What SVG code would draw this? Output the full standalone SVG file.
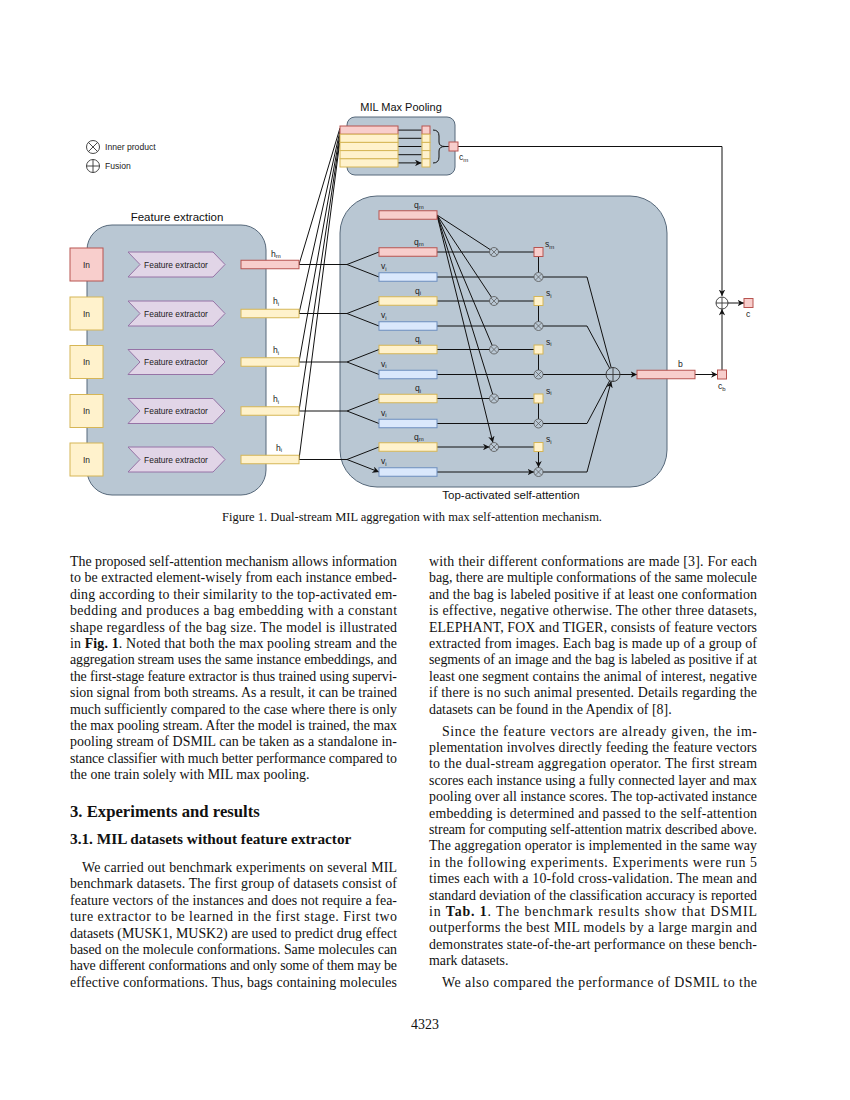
<svg xmlns="http://www.w3.org/2000/svg" width="850" height="1100" viewBox="0 0 850 1100">
<style>
.box{fill:#b9c7d3;stroke:#56687a;stroke-width:1}
.pk{fill:#f8cecc;stroke:#b85450;stroke-width:1}
.yl{fill:#fff2cc;stroke:#d6b656;stroke-width:1}
.bl{fill:#dae8fc;stroke:#6c8ebf;stroke-width:1}
.pu{fill:#e1d5e7;stroke:#9673a6;stroke-width:1}
.ln{stroke:#111;stroke-width:1;fill:none}
.ar{marker-end:url(#ah)}
.op{fill:none;stroke:#333;stroke-width:0.9}
.lab{font-family:"Liberation Sans",Arial,sans-serif;font-size:8.6px;fill:#222}
.sub{font-size:6px}
.ttl{font-family:"Liberation Sans",Arial,sans-serif;font-size:11.5px;fill:#111;text-anchor:middle}
.fe{font-family:"Liberation Sans",Arial,sans-serif;font-size:8.4px;fill:#222;text-anchor:middle}
.body{font-family:"Liberation Serif","Times New Roman",serif;font-size:13.9px;fill:#111}
.b{font-weight:bold}
</style>
<defs>
<marker id="ah" viewBox="0 0 10 10" refX="10" refY="5" markerWidth="6.5" markerHeight="6.5" markerUnits="userSpaceOnUse" orient="auto"><path d="M0,0 L10,5 L0,10 L3,5 z" fill="#111"/></marker>
<g id="ipx"><circle r="4.5" cx="0" cy="0" fill="none" stroke="#555" stroke-width="0.8"/><path d="M-3.2,-3.2 L3.2,3.2 M-3.2,3.2 L3.2,-3.2" stroke="#555" stroke-width="0.7"/></g>
</defs>
<rect width="850" height="1100" fill="#fff"/>

<!-- Legend -->
<g id="legend">
<circle cx="93" cy="147" r="6.5" class="op"/><path d="M88.4,142.4 L97.6,151.6 M88.4,151.6 L97.6,142.4" class="op"/>
<text x="105" y="150" class="lab">Inner product</text>
<circle cx="93" cy="166" r="6.5" class="op"/><path d="M86.5,166 H99.5 M93,159.5 V172.5" class="op"/>
<text x="105" y="169" class="lab">Fusion</text>
</g>

<!-- Containers -->
<g id="feature-extraction">
<rect x="87" y="225" width="179" height="270" rx="25" class="box"/>
<text x="177" y="221" class="ttl">Feature extraction</text>
</g>
<g id="mil-max-pooling">
<rect x="347" y="117" width="108" height="58" rx="8" class="box"/>
<text x="401" y="111" class="ttl" style="font-size:11px">MIL Max Pooling</text>
</g>
<g id="self-attention">
<rect x="340" y="196" width="327" height="291" rx="37" class="box"/>
<text x="511" y="499" class="ttl">Top-activated self-attention</text>
</g>

<!-- Connectors -->
<g id="connectors">
<path d="M299,264.5 L340,128 M299,313.5 L340,131 M299,362 L340,134 M299,411 L340,137 M299,459.5 L340,140" class="ln"/>
<path d="M398,130.1 H421.5 M398,138.3 H421.5 M398,146.5 H421.5 M398,154.7 H421.5 M398,162.9 H421.5" class="ln ar"/>
<path d="M433,130 Q439,130 439,136 L439,142 Q439,146.5 445,146.5 Q439,146.5 439,151 L439,157 Q439,163 433,163" class="ln" stroke-width="0.9"/>
<path d="M445,146.5 H449" class="ln"/>
<path d="M458,146.5 H722 V296" class="ln ar"/>
<path d="M299,264.5 H347 M299,313.5 H347 M299,362 H347 M299,411 H347 M299,459.5 H347" class="ln"/>
<path d="M347,264.5 L379,252 M347,264.5 L379,277 M347,313.5 L379,301 M347,313.5 L379,326 M347,362 L379,349.5 M347,362 L379,374.5 M347,411 L379,398.5 M347,411 L379,423.5 M347,459.5 L379,447 M347,459.5 L379,472" class="ln ar"/>
<path d="M437,252 H489.5 M437,301 H489.5 M437,349.5 H489.5 M437,398.5 H489.5 M437,447 H489.5" class="ln ar"/>
<path d="M437,215 L490.2,249.6 M437,215 L491.5,297.3 M437,215 L492.2,345.4 M437,215 L492.7,394.2 M437,215 L492.9,442.6" class="ln ar"/>
<path d="M498.5,252 H534 M498.5,301 H534 M498.5,349.5 H534 M498.5,398.5 H534 M498.5,447 H534" class="ln"/>
<path d="M538.5,256.5 V272.5 M538.5,305.5 V321.5 M538.5,354 V370 M538.5,403 V419 M538.5,451.5 V467.5" class="ln ar"/>
<path d="M437,277 H534 M437,326 H534 M437,374.5 H534 M437,423.5 H534 M437,472 H534" class="ln ar"/>
<path d="M543,277 H587 L611.2,367.7 M543,326 H587 L609.7,368.3 M543,374.5 H606 M543,423.5 H587 L609.7,380.7 M543,472 H587 L611.2,381.3" class="ln ar"/>
<path d="M620,374.5 H637" class="ln ar"/>
<path d="M695,374.5 H717.5" class="ln ar"/>
<path d="M722,370 V309" class="ln ar"/>
<path d="M728,303 H744" class="ln ar"/>
</g>

<!-- Inputs and extractors -->
<g id="row-0">
<rect x="70" y="248" width="33" height="33" class="pk"/><text x="86.5" y="267.5" class="fe">In</text>
<polygon points="128,252 213,252 225,264.5 213,277 128,277 140,264.5" class="pu"/><text x="176" y="267.5" class="fe">Feature extractor</text>
<rect x="241" y="260.25" width="58" height="8.5" class="pk"/>
<text x="271" y="256.5" class="lab">h<tspan dy="1.8" class="sub">m</tspan></text>
</g>
<g id="row-1">
<rect x="70" y="297" width="33" height="33" class="yl"/><text x="86.5" y="316.5" class="fe">In</text>
<polygon points="128,301 213,301 225,313.5 213,326 128,326 140,313.5" class="pu"/><text x="176" y="316.5" class="fe">Feature extractor</text>
<rect x="241" y="309.25" width="58" height="8.5" class="yl"/>
<text x="273" y="304" class="lab">h<tspan dy="1.8" class="sub">i</tspan></text>
</g>
<g id="row-2">
<rect x="70" y="345.5" width="33" height="33" class="yl"/><text x="86.5" y="365" class="fe">In</text>
<polygon points="128,349.5 213,349.5 225,362 213,374.5 128,374.5 140,362" class="pu"/><text x="176" y="365" class="fe">Feature extractor</text>
<rect x="241" y="357.75" width="58" height="8.5" class="yl"/>
<text x="273" y="353" class="lab">h<tspan dy="1.8" class="sub">i</tspan></text>
</g>
<g id="row-3">
<rect x="70" y="394.5" width="33" height="33" class="yl"/><text x="86.5" y="414" class="fe">In</text>
<polygon points="128,398.5 213,398.5 225,411 213,423.5 128,423.5 140,411" class="pu"/><text x="176" y="414" class="fe">Feature extractor</text>
<rect x="241" y="406.75" width="58" height="8.5" class="yl"/>
<text x="273" y="402" class="lab">h<tspan dy="1.8" class="sub">i</tspan></text>
</g>
<g id="row-4">
<rect x="70" y="443" width="33" height="33" class="yl"/><text x="86.5" y="462.5" class="fe">In</text>
<polygon points="128,447 213,447 225,459.5 213,472 128,472 140,459.5" class="pu"/><text x="176" y="462.5" class="fe">Feature extractor</text>
<rect x="241" y="455.25" width="58" height="8.5" class="yl"/>
<text x="276" y="450.5" class="lab">h<tspan dy="1.8" class="sub">i</tspan></text>
</g>

<!-- Max pooling contents -->
<g id="pooling-stack">
<rect x="340" y="126" width="58" height="8.2" class="pk"/>
<rect x="340" y="134.2" width="58" height="8.2" class="yl"/>
<rect x="340" y="142.4" width="58" height="8.2" class="yl"/>
<rect x="340" y="150.6" width="58" height="8.2" class="yl"/>
<rect x="340" y="158.8" width="58" height="8.2" class="yl"/>
<rect x="422" y="126" width="8" height="8.2" class="pk"/>
<rect x="422" y="134.2" width="8" height="8.2" class="yl"/>
<rect x="422" y="142.4" width="8" height="8.2" class="yl"/>
<rect x="422" y="150.6" width="8" height="8.2" class="yl"/>
<rect x="422" y="158.8" width="8" height="8.2" class="yl"/>
</g>
<g id="cm">
<rect x="449" y="142" width="9" height="9" class="pk"/>
<text x="459" y="160" class="lab">c<tspan dy="1.8" class="sub">m</tspan></text>
</g>

<!-- Self-attention contents -->
<g id="qm-top">
<rect x="379" y="210.75" width="58" height="8.5" class="pk"/>
<text x="414" y="207.5" class="lab">q<tspan dy="1.8" class="sub">m</tspan></text>
</g>
<g id="att-row-0">
<rect x="379" y="247.75" width="58" height="8.5" class="pk"/>
<text x="414" y="244.5" class="lab">q<tspan dy="1.8" class="sub">m</tspan></text>
<rect x="379" y="272.75" width="58" height="8.5" class="bl"/>
<text x="381" y="269" class="lab">v<tspan dy="1.8" class="sub">i</tspan></text>
<use href="#ipx" x="494" y="252"/>
<rect x="534" y="247.5" width="9" height="9" class="pk"/>
<text x="545" y="247" class="lab">s<tspan dy="1.8" class="sub">m</tspan></text>
<use href="#ipx" x="538.5" y="277"/>
</g>
<g id="att-row-1">
<rect x="379" y="296.75" width="58" height="8.5" class="yl"/>
<text x="415" y="293.5" class="lab">q<tspan dy="1.8" class="sub">i</tspan></text>
<rect x="379" y="321.75" width="58" height="8.5" class="bl"/>
<text x="381" y="318" class="lab">v<tspan dy="1.8" class="sub">i</tspan></text>
<use href="#ipx" x="494" y="301"/>
<rect x="534" y="296.5" width="9" height="9" class="yl"/>
<text x="546" y="296" class="lab">s<tspan dy="1.8" class="sub">i</tspan></text>
<use href="#ipx" x="538.5" y="326"/>
</g>
<g id="att-row-2">
<rect x="379" y="345.25" width="58" height="8.5" class="yl"/>
<text x="415" y="342" class="lab">q<tspan dy="1.8" class="sub">i</tspan></text>
<rect x="379" y="370.25" width="58" height="8.5" class="bl"/>
<text x="381" y="366.5" class="lab">v<tspan dy="1.8" class="sub">i</tspan></text>
<use href="#ipx" x="494" y="349.5"/>
<rect x="534" y="345" width="9" height="9" class="yl"/>
<text x="546" y="344.5" class="lab">s<tspan dy="1.8" class="sub">i</tspan></text>
<use href="#ipx" x="538.5" y="374.5"/>
</g>
<g id="att-row-3">
<rect x="379" y="394.25" width="58" height="8.5" class="yl"/>
<text x="415" y="391" class="lab">q<tspan dy="1.8" class="sub">i</tspan></text>
<rect x="379" y="419.25" width="58" height="8.5" class="bl"/>
<text x="381" y="415.5" class="lab">v<tspan dy="1.8" class="sub">i</tspan></text>
<use href="#ipx" x="494" y="398.5"/>
<rect x="534" y="394" width="9" height="9" class="yl"/>
<text x="546" y="393.5" class="lab">s<tspan dy="1.8" class="sub">i</tspan></text>
<use href="#ipx" x="538.5" y="423.5"/>
</g>
<g id="att-row-4">
<rect x="379" y="442.75" width="58" height="8.5" class="yl"/>
<text x="414" y="439.5" class="lab">q<tspan dy="1.8" class="sub">m</tspan></text>
<rect x="379" y="467.75" width="58" height="8.5" class="bl"/>
<text x="381" y="464" class="lab">v<tspan dy="1.8" class="sub">i</tspan></text>
<use href="#ipx" x="494" y="447"/>
<rect x="534" y="442.5" width="9" height="9" class="yl"/>
<text x="546" y="442" class="lab">s<tspan dy="1.8" class="sub">i</tspan></text>
<use href="#ipx" x="538.5" y="472"/>
</g>
<g id="fusion-main">
<circle cx="613" cy="374.5" r="7" class="op"/><path d="M606,374.5 H620 M613,367.5 V381.5" class="op"/>
</g>
<g id="b">
<rect x="637" y="370.25" width="58" height="8.5" class="pk"/>
<text x="678" y="367" class="lab">b</text>
</g>
<g id="cb">
<rect x="717.5" y="370" width="9" height="9" class="pk"/>
<text x="718" y="389" class="lab">c<tspan dy="1.8" class="sub">b</tspan></text>
</g>
<g id="fusion-out">
<circle cx="722" cy="303" r="6" class="op"/><path d="M716,303 H728 M722,297 V309" class="op"/>
</g>
<g id="c">
<rect x="744" y="298.5" width="9" height="9" class="pk"/>
<text x="746" y="317" class="lab">c</text>
</g>

<!-- Caption -->
<text x="222" y="521" class="body" style="font-size:12.5px" textLength="380" lengthAdjust="spacingAndGlyphs">Figure 1. Dual-stream MIL aggregation with max self-attention mechanism.</text>

<!-- Left column -->
<g class="body">
<text x="70" y="566" textLength="327">The proposed self-attention mechanism allows information</text>
<text x="70" y="582.4" textLength="327">to be extracted element-wisely from each instance embed-</text>
<text x="70" y="598.8" textLength="327">ding according to their similarity to the top-activated em-</text>
<text x="70" y="615.2" textLength="327">bedding and produces a bag embedding with a constant</text>
<text x="70" y="631.6" textLength="327">shape regardless of the bag size.  The model is illustrated</text>
<text x="70" y="648" textLength="327">in <tspan class="b">Fig. 1</tspan>. Noted that both the max pooling stream and the</text>
<text x="70" y="664.4" textLength="327">aggregation stream uses the same instance embeddings, and</text>
<text x="70" y="680.8" textLength="327">the first-stage feature extractor is thus trained using supervi-</text>
<text x="70" y="697.2" textLength="327">sion signal from both streams. As a result, it can be trained</text>
<text x="70" y="713.6" textLength="327">much sufficiently compared to the case where there is only</text>
<text x="70" y="730" textLength="327">the max pooling stream. After the model is trained, the max</text>
<text x="70" y="746.4" textLength="327">pooling stream of DSMIL can be taken as a standalone in-</text>
<text x="70" y="762.8" textLength="327">stance classifier with much better performance compared to</text>
<text x="70" y="779.2">the one train solely with MIL max pooling.</text>
<text x="70" y="817" class="b" style="font-size:16.7px">3. Experiments and results</text>
<text x="70" y="844" class="b" style="font-size:15.3px">3.1. MIL datasets without feature extractor</text>
<text x="82" y="872" textLength="315">We carried out benchmark experiments on several MIL</text>
<text x="70" y="888.4" textLength="327">benchmark datasets.  The first group of datasets consist of</text>
<text x="70" y="904.8" textLength="327">feature vectors of the instances and does not require a fea-</text>
<text x="70" y="921.2" textLength="327">ture extractor to be learned in the first stage.  First two</text>
<text x="70" y="937.6" textLength="327">datasets (MUSK1, MUSK2) are used to predict drug effect</text>
<text x="70" y="954" textLength="327">based on the molecule conformations. Same molecules can</text>
<text x="70" y="970.4" textLength="327">have different conformations and only some of them may be</text>
<text x="70" y="986.8" textLength="327">effective conformations.  Thus, bags containing molecules</text>
</g>

<!-- Right column -->
<g class="body">
<text x="429" y="566" textLength="328">with their different conformations are made [3].  For each</text>
<text x="429" y="582.4" textLength="328">bag, there are multiple conformations of the same molecule</text>
<text x="429" y="598.8" textLength="328">and the bag is labeled positive if at least one conformation</text>
<text x="429" y="615.2" textLength="328">is effective, negative otherwise.  The other three datasets,</text>
<text x="429" y="631.6" textLength="328">ELEPHANT, FOX and TIGER, consists of feature vectors</text>
<text x="429" y="648" textLength="328">extracted from images.  Each bag is made up of a group of</text>
<text x="429" y="664.4" textLength="328">segments of an image and the bag is labeled as positive if at</text>
<text x="429" y="680.8" textLength="328">least one segment contains the animal of interest, negative</text>
<text x="429" y="697.2" textLength="328">if there is no such animal presented. Details regarding the</text>
<text x="429" y="713.6">datasets can be found in the Apendix of [8].</text>
<text x="442" y="735.5" textLength="315">Since the feature vectors are already given, the im-</text>
<text x="429" y="751.9" textLength="328">plementation involves directly feeding the feature vectors</text>
<text x="429" y="768.3" textLength="328">to the dual-stream aggregation operator.  The first stream</text>
<text x="429" y="784.7" textLength="328">scores each instance using a fully connected layer and max</text>
<text x="429" y="801.1" textLength="328">pooling over all instance scores. The top-activated instance</text>
<text x="429" y="817.5" textLength="328">embedding is determined and passed to the self-attention</text>
<text x="429" y="833.9" textLength="328">stream for computing self-attention matrix described above.</text>
<text x="429" y="850.3" textLength="328">The aggregation operator is implemented in the same way</text>
<text x="429" y="866.7" textLength="328">in the following experiments.  Experiments were run 5</text>
<text x="429" y="883.1" textLength="328">times each with a 10-fold cross-validation. The mean and</text>
<text x="429" y="899.5" textLength="328">standard deviation of the classification accuracy is reported</text>
<text x="429" y="915.9" textLength="328">in <tspan class="b">Tab. 1</tspan>.  The benchmark results show that DSMIL</text>
<text x="429" y="932.3" textLength="328">outperforms the best MIL models by a large margin and</text>
<text x="429" y="948.7" textLength="328">demonstrates state-of-the-art performance on these bench-</text>
<text x="429" y="965.1">mark datasets.</text>
<text x="442" y="987" textLength="315">We also compared the performance of DSMIL to the</text>
</g>

<text x="425" y="1029" class="body" text-anchor="middle">4323</text>
</svg>
